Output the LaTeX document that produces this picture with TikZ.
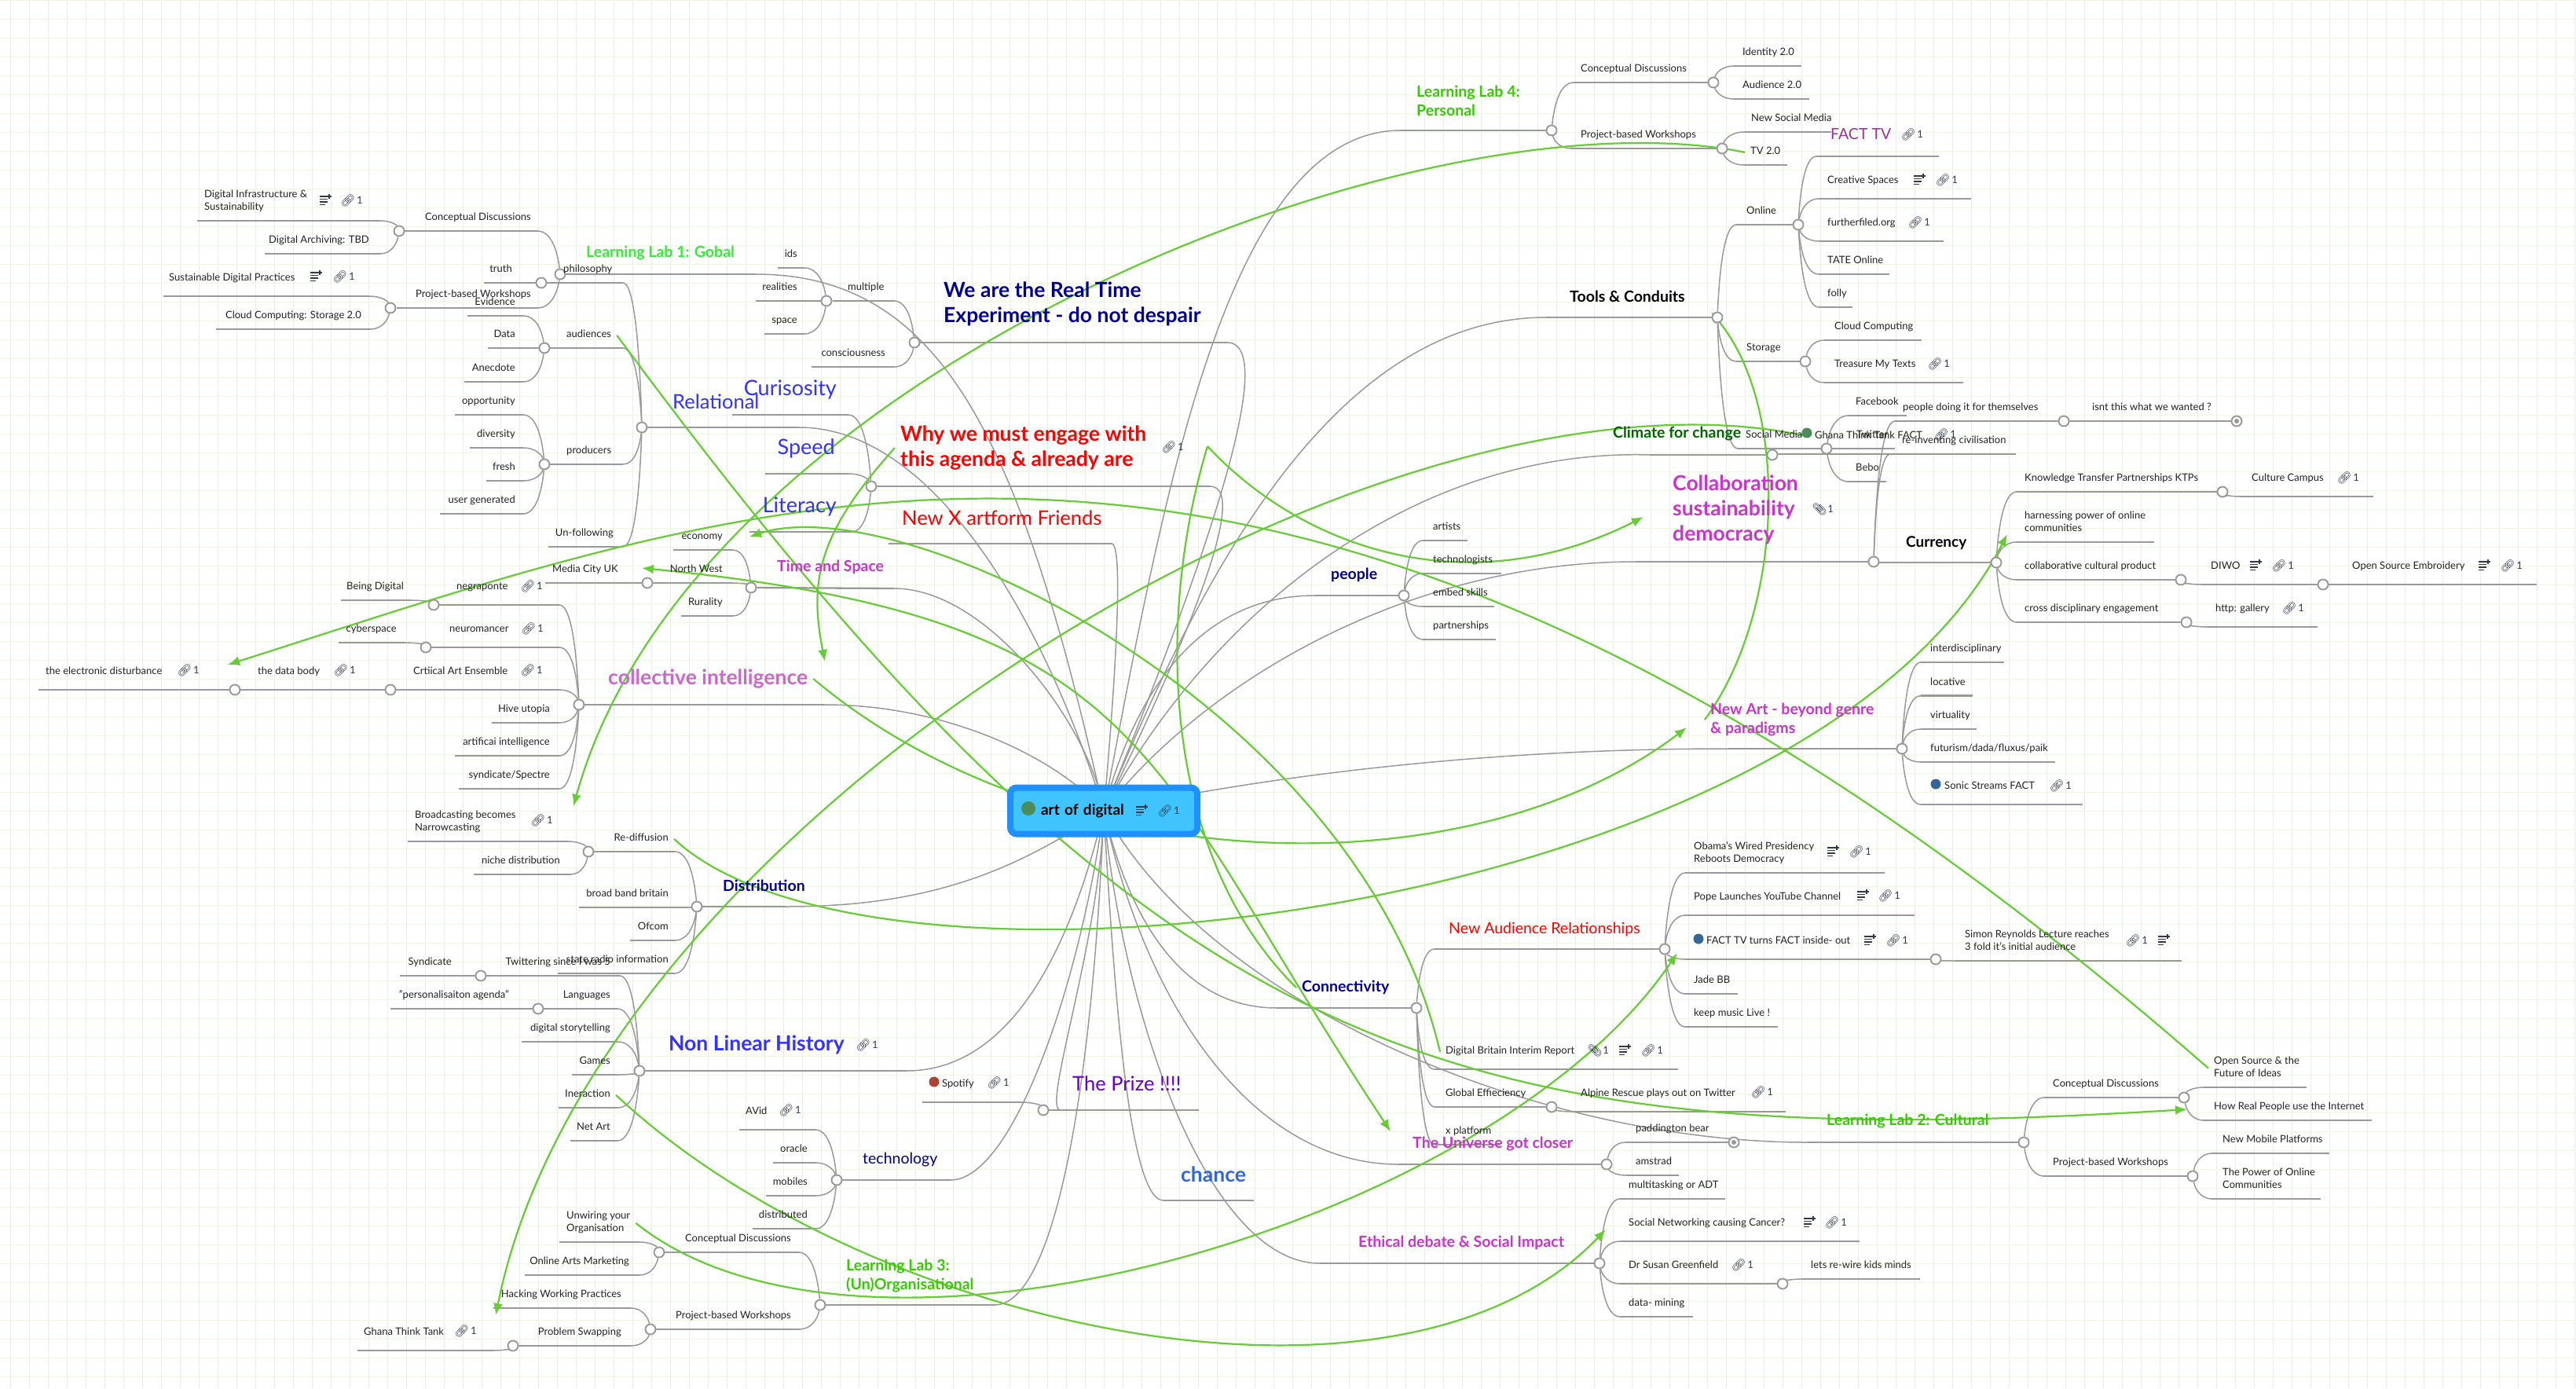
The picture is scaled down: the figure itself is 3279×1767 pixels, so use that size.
\documentclass[tikz,border=0pt]{standalone}
\usepackage{fontspec}
\setmainfont{Lato}
\newfontfamily\emojifont{Noto Emoji}
\usetikzlibrary{arrows.meta,backgrounds,calc}

\definecolor{linegray}{HTML}{999999}
\definecolor{relgreen}{HTML}{66CC33}
\definecolor{labgreen}{HTML}{33CC00}
\definecolor{limegreen}{HTML}{33EE33}
\definecolor{darkgreen}{HTML}{006600}
\definecolor{navyblue}{HTML}{000099}
\definecolor{brightblue}{HTML}{3333FF}
\definecolor{softblue}{HTML}{3366DD}
\definecolor{brightred}{HTML}{FF0000}
\definecolor{magentapink}{HTML}{CC33CC}
\definecolor{orchidpink}{HTML}{CC66CC}
\definecolor{prizepurple}{HTML}{6600CC}
\definecolor{factpurple}{HTML}{993399}
\definecolor{inkgray}{HTML}{222222}
\definecolor{iconink}{HTML}{33384A}
\definecolor{gridv}{HTML}{E7EFDE}
\definecolor{gridh}{HTML}{EEF7E4}
\definecolor{rootborder}{HTML}{1E90FF}
\definecolor{rootfill}{HTML}{40C4FF}
\definecolor{dotgreen}{HTML}{4C8C5A}
\definecolor{dotred}{HTML}{AA4433}
\definecolor{dotblue}{HTML}{336699}

\tikzset{
  leaf/.style={font=\fontsize{13}{16}\selectfont,text=inkgray,align=left,inner xsep=7pt,inner ysep=0pt,text depth=3.5pt,yshift=9.5pt},
  leafhi/.style={leaf,yshift=6pt},
  leafbig/.style={leaf,font=\fontsize{27}{32}\selectfont,text=brightblue,text depth=6pt,yshift=8.5pt},
  leafmid/.style={leaf,font=\fontsize{19.5}{24}\selectfont,text depth=5pt,yshift=4.5pt},
  leafbold/.style={leaf,font=\bfseries\fontsize{19}{24}\selectfont,text=black,text depth=5pt,yshift=4.5pt},
  title/.style={anchor=west,align=left,inner xsep=7pt,inner ysep=0pt,xshift=-7pt},
  titlebig/.style={title,font=\bfseries\fontsize{26.5}{32}\selectfont},
  titlemid/.style={title,font=\bfseries\fontsize{19.5}{24}\selectfont},
  titleplain/.style={title,font=\fontsize{25.5}{32}\selectfont},
  titleslim/.style={title,font=\fontsize{19.5}{24}\selectfont},
  hubdot/.style={circle,draw=linegray,fill=white,line width=1.9pt,minimum size=13pt,inner sep=0pt},
  markdot/.style={circle,minimum size=13pt,inner sep=0pt},
  rootbox/.style={draw=rootborder,fill=rootfill,line width=8pt,rounded corners=8pt,minimum width=238pt,minimum height=59pt,text width=222pt,align=left,inner sep=0pt,font=\bfseries\fontsize{19}{22}\selectfont},
  stem/.style={draw=linegray,line width=2.3pt},
  twigline/.style={draw=linegray,line width=1.5pt},
  twig/.style={twigline,to path={let \p1=(\tikztostart),\p2=(\tikztotarget) in .. controls (\x1*0.88+\x2*0.12,\y1*0.45+\y2*0.55) and (\x1*0.6+\x2*0.4,\y2) .. (\tikztotarget)}},
  relation/.style={draw=relgreen,line width=2.2pt},
  reltip/.style={relation,-{Latex[length=15pt,width=12pt]}},
  iconline/.style={draw=iconink,line width=1.2pt},
  iconnum/.style={font=\fontsize{13}{16}\selectfont,text=iconink,inner sep=0pt},
  notemark/.pic={
    \draw[iconline] (-7,-5) -- (2,-5) (-7,-1.5) -- (3,-1.5) (-7,2) -- (3,2) (-7,5.5) -- (0,5.5);
    \draw[iconline] (5,-8) -- (5,-2) (2,-5) -- (8,-5);
  }
}

\newcounter{iconno}
\newcommand{\linkat}[2]{\stepcounter{iconno}\node[iconnum] (link\arabic{iconno}) at (#1,#2) {\fontsize{15}{16}\emojifont\symbol{"1F517}};\node[iconnum] (num\arabic{iconno}) at (#1+15,#2) {1};}
\newcommand{\clipat}[2]{\stepcounter{iconno}\node[iconnum] (clip\arabic{iconno}) at (#1,#2) {\fontsize{15}{16}\emojifont\symbol{"1F4CE}};\node[iconnum] (num\arabic{iconno}) at (#1+14,#2) {1};}
\newcommand{\noteat}[2]{\pic at (#1,#2) {notemark};}

% leaf whose text starts at the given x
\newcommand{\leafR}[8][leaf]{
  \coordinate (#2-a) at (#4,#6);
  \coordinate (#2-b) at (#5,#6);
  \node[#1,anchor=south west,xshift=-7pt] (#2) at (#7,#6) {#8};
  \begin{pgfonlayer}{background}
    \path (#3) edge[twig] (#2-a);
    \draw[stem] (#2-a) -- (#2-b);
  \end{pgfonlayer}
}
% leaf whose text ends at the given x
\newcommand{\leafL}[8][leaf]{
  \coordinate (#2-a) at (#4,#6);
  \coordinate (#2-b) at (#5,#6);
  \node[#1,anchor=south east,xshift=7pt] (#2) at (#7,#6) {#8};
  \begin{pgfonlayer}{background}
    \path (#3) edge[twig] (#2-a);
    \draw[stem] (#2-a) -- (#2-b);
  \end{pgfonlayer}
}
% limb from the root to a first level hub
\newcommand{\limb}[4]{
  \coordinate (t-#1) at #4;
  \begin{pgfonlayer}{background}
    \draw[twigline] (root.center) .. controls #2 and #3 .. (t-#1);
    \draw[stem] (t-#1) -- (h-#1);
  \end{pgfonlayer}
}

\begin{document}
\begin{tikzpicture}[x=1pt,y=-1pt]
  \useasboundingbox (0,0) rectangle (3279,1767);
  \begin{pgfonlayer}{background}
    \fill[white] (0,0) rectangle (3279,1767);
    \foreach \gx in {13,37,...,3279} \draw[gridv,line width=1pt] (\gx,0) -- (\gx,1767);
    \foreach \gy in {0,24,...,1767} \draw[gridh,line width=1pt] (0,\gy) -- (3279,\gy);
  \end{pgfonlayer}

  \node[rootbox] (root) at (1405,1032) {\hspace*{31pt}art of digital};
  \node[markdot,minimum size=18pt,fill=dotgreen] (rootdot) at (1309,1029) {};
  \noteat{1453}{1032}
  \linkat{1483}{1032}

  % learning lab 1
  \node[hubdot] (h-lab1) at (713,349) {};
  \node[titlemid,text=limegreen] (lab1) at (746,322) {Learning Lab 1: Gobal};
  \limb{lab1}{(1300,560)}{(1200,349)}{(961,349)}
  \leafL{lab1cd}{h-lab1}{684}{515}{294}{676}{Conceptual Discussions}
  \node[hubdot] (h-lab1cd) at (508,294) {};
  \leafR{infra}{h-lab1cd}{484}{251}{281}{260}{Digital Infrastructure \&\\Sustainability}
  \noteat{414}{255} \linkat{443}{255}
  \leafL{archiving}{h-lab1cd}{484}{337}{323}{470}{Digital Archiving: TBD}
  \leafL{lab1pw}{h-lab1}{684}{505}{392}{676}{Project-based Workshops}
  \node[hubdot] (h-lab1pw) at (497,392) {};
  \leafR[leafhi]{sustainable}{h-lab1pw}{470}{208}{377}{215}{Sustainable Digital Practices}
  \noteat{402}{352} \linkat{433}{352}
  \leafL{cloudstore}{h-lab1pw}{471}{275}{419}{460}{Cloud Computing: Storage 2.0}

  % relational
  \node[hubdot] (h-relational) at (817,544) {};
  \node[titleplain,text=brightblue] (relational) at (856,511) {Relational};
  \limb{relational}{(1340,820)}{(1200,544)}{(1017,544)}
  \leafR{philosophy}{h-relational}{793}{695}{360}{717}{philosophy}
  \node[hubdot] (h-philosophy) at (689,360) {};
  \leafL{truth}{h-philosophy}{680}{616}{360}{652}{truth}
  \leafR{audiences}{h-relational}{793}{700}{443}{721}{audiences}
  \node[hubdot] (h-audiences) at (693,443) {};
  \leafL{evidence}{h-audiences}{666}{595}{402}{656}{Evidence}
  \leafL{datum}{h-audiences}{685}{621}{443}{656}{Data}
  \leafL{anecdote}{h-audiences}{666}{591}{486}{656}{Anecdote}
  \leafR{producers}{h-relational}{793}{700}{591}{721}{producers}
  \node[hubdot] (h-producers) at (693,591) {};
  \leafL{opportunity}{h-producers}{666}{579}{528}{656}{opportunity}
  \leafL{diversity}{h-producers}{666}{598}{570}{656}{diversity}
  \leafL{fresh}{h-producers}{666}{619}{612}{656}{fresh}
  \leafL{usergen}{h-producers}{666}{560}{654}{656}{user generated}
  \leafL{unfollowing}{h-relational}{793}{698}{696}{781}{Un-following}

  % real time experiment
  \node[hubdot] (h-weare) at (1164,436) {};
  \node[titlebig,text=navyblue] (weare) at (1201,387) {We are the Real Time\\Experiment - do not despair};
  \limb{weare}{(1500,800)}{(1640,436)}{(1562,436)}
  \leafR{multiple}{h-weare}{1138}{1060}{383}{1079}{multiple}
  \node[hubdot] (h-multiple) at (1052,383) {};
  \leafL{ids}{h-multiple}{1024}{990}{341}{1015}{ids}
  \leafL{realities}{h-multiple}{1043}{962}{383}{1015}{realities}
  \leafL{spaces}{h-multiple}{1024}{973}{425}{1015}{space}
  \leafL{consciousness}{h-weare}{1138}{1033}{467}{1127}{consciousness}

  % why we must engage
  \node[hubdot] (h-why) at (1109,619) {};
  \node[titlebig,text=brightred] (why) at (1146,570) {Why we must engage with\\this agenda \& already are};
  \linkat{1488}{569}
  \limb{why}{(1480,880)}{(1600,619)}{(1540,619)}
  \leafL[leafbig]{curisosity}{h-why}{1080}{932}{528}{1065}{Curisosity}
  \leafL[leafbig]{speed}{h-why}{1080}{974}{603}{1063}{Speed}
  \leafL[leafbig]{literacy}{h-why}{1084}{954}{677}{1065}{Literacy}

  % new x artform
  \coordinate (h-newx) at (1131,692);
  \node[titleplain,text=brightred] (newx) at (1148,659) {New X artform Friends};
  \limb{newx}{(1417,900)}{(1432,692)}{(1415,692)}

  % time and space
  \node[hubdot] (h-time) at (956,748) {};
  \node[titlemid,text=magentapink] (timespace) at (989,722) {Time and Space};
  \limb{time}{(1390,930)}{(1260,749)}{(1138,749)}
  \leafL{economy}{h-time}{933}{857}{700}{920}{economy}
  \leafL{northwest}{h-time}{933}{830}{742}{920}{North West}
  \node[hubdot] (h-northwest) at (824,742) {};
  \leafL{mediacity}{h-northwest}{815}{694}{742}{787}{Media City UK}
  \leafL{rurality}{h-time}{933}{867}{784}{920}{Rurality}

  % collective intelligence
  \node[hubdot] (h-collective) at (737,897) {};
  \node[titlebig,text=orchidpink] (collective) at (774,864) {collective intelligence};
  \limb{collective}{(1340,960)}{(1200,897)}{(1050,897)}
  \leafR[leafhi]{negraponte}{h-collective}{712}{558}{770}{581}{negraponte}
  \linkat{672}{746}
  \node[hubdot] (h-negraponte) at (552,770) {};
  \leafL{beingdigital}{h-negraponte}{523}{434}{764}{514}{Being Digital}
  \leafR[leafhi]{neuromancer}{h-collective}{712}{548}{824}{572}{neuromancer}
  \linkat{673}{800}
  \node[hubdot] (h-neuromancer) at (542,824) {};
  \leafL{cyberspace}{h-neuromancer}{516}{431}{818}{505}{cyberspace}
  \leafR[leafhi]{ensemble}{h-collective}{712}{503}{878}{526}{Crtiical Art Ensemble}
  \linkat{672}{853}
  \node[hubdot] (h-ensemble) at (497,878) {};
  \leafR[leafhi]{databody}{h-ensemble}{490}{305}{878}{328}{the data body}
  \linkat{434}{853}
  \node[hubdot] (h-databody) at (299,878) {};
  \leafR[leafhi]{electronic}{h-databody}{292}{49}{878}{58}{the electronic disturbance}
  \linkat{235}{853}
  \leafL{hive}{h-collective}{712}{626}{920}{700}{Hive utopia}
  \leafL{artificai}{h-collective}{712}{579}{962}{700}{artificai intelligence}
  \leafL{syndicatespectre}{h-collective}{712}{584}{1004}{700}{syndicate/Spectre}

  % distribution
  \node[hubdot] (h-distribution) at (887,1154) {};
  \node[titlemid,text=navyblue] (distribution) at (920,1127) {Distribution};
  \limb{distribution}{(1290,1110)}{(1180,1154)}{(1000,1154)}
  \leafL{rediffusion}{h-distribution}{859}{755}{1084}{851}{Re-diffusion}
  \node[hubdot] (h-rediffusion) at (749,1084) {};
  \leafR{broadcasting}{h-rediffusion}{723}{519}{1071}{528}{Broadcasting becomes\\Narrowcasting}
  \linkat{685}{1044}
  \leafL{niche}{h-rediffusion}{726}{603}{1113}{713}{niche distribution}
  \leafL{broadband}{h-distribution}{876}{737}{1155}{851}{broad band britain}
  \leafL{ofcom}{h-distribution}{859}{802}{1197}{851}{Ofcom}
  \leafL{stateradio}{h-distribution}{859}{710}{1239}{851}{state radio information}

  % non linear history
  \node[hubdot] (h-nonlinear) at (814,1363) {};
  \node[titlebig,text=brightblue] (nonlinear) at (851,1330) {Non Linear History};
  \linkat{1099}{1330}
  \limb{nonlinear}{(1365,1200)}{(1290,1363)}{(1154,1363)}
  \leafL{twittering}{h-nonlinear}{789}{618}{1242}{777}{Twittering since I was 5}
  \node[hubdot] (h-twittering) at (612,1242) {};
  \leafL{syndicate}{h-twittering}{603}{509}{1242}{575}{Syndicate}
  \leafL{languages}{h-nonlinear}{786}{691}{1284}{777}{Languages}
  \node[hubdot] (h-languages) at (685,1284) {};
  \leafL{personal}{h-languages}{676}{497}{1284}{648}{"personalisaiton agenda"}
  \leafL{storytelling}{h-nonlinear}{786}{664}{1326}{777}{digital storytelling}
  \leafL{games}{h-nonlinear}{786}{728}{1368}{777}{Games}
  \leafL{ineraction}{h-nonlinear}{786}{711}{1410}{777}{Ineraction}
  \leafL{netart}{h-nonlinear}{786}{726}{1452}{777}{Net Art}

  % the prize
  \node[hubdot] (h-prize) at (1328,1413) {};
  \node[titleplain,text=prizepurple] (prize) at (1365,1379) {The Prize !!!!};
  \limb{prize}{(1400,1200)}{(1325,1413)}{(1350,1413)}
  \coordinate (prize-end) at (1526,1413);
  \begin{pgfonlayer}{background}
    \draw[stem] (t-prize) -- (prize-end);
  \end{pgfonlayer}
  \leafR[leafhi]{spotify}{h-prize}{1301}{1174}{1403}{1199}{Spotify}
  \node[markdot,fill=dotred] (spotifydot) at (1189,1377) {};
  \linkat{1266}{1378}

  % technology
  \node[hubdot] (h-technology) at (1065,1502) {};
  \node[titleslim,text=navyblue] (technology) at (1098,1476) {technology};
  \limb{technology}{(1375,1250)}{(1290,1502)}{(1210,1502)}
  \leafR[leafhi]{avid}{h-technology}{1038}{941}{1438}{949}{AVid}
  \linkat{1001}{1413}
  \leafL{oracle}{h-technology}{1038}{984}{1480}{1028}{oracle}
  \leafL{mobiles}{h-technology}{1038}{975}{1522}{1028}{mobiles}
  \leafL{distributed}{h-technology}{1038}{958}{1564}{1028}{distributed}

  % learning lab 3
  \node[hubdot] (h-lab3) at (1044,1661) {};
  \node[titlemid,text=labgreen] (lab3) at (1077,1624) {Learning Lab 3:\\(Un)Organisational};
  \limb{lab3}{(1390,1400)}{(1340,1661)}{(1266,1661)}
  \leafL{lab3cd}{h-lab3}{1017}{845}{1594}{1007}{Conceptual Discussions}
  \node[hubdot] (h-lab3cd) at (839,1594) {};
  \leafR{unwiring}{h-lab3cd}{814}{712}{1581}{721}{Unwiring your\\Organisation}
  \leafL{onlinearts}{h-lab3cd}{814}{668}{1623}{801}{Online Arts Marketing}
  \leafL{lab3pw}{h-lab3}{1017}{834}{1692}{1007}{Project-based Workshops}
  \node[hubdot] (h-lab3pw) at (828,1692) {};
  \leafL{hacking}{h-lab3pw}{803}{628}{1665}{791}{Hacking Working Practices}
  \leafL{swapping}{h-lab3pw}{803}{659}{1713}{791}{Problem Swapping}
  \node[hubdot] (h-swapping) at (653,1713) {};
  \leafR[leafhi]{ghana}{h-swapping}{628}{455}{1719}{463}{Ghana Think Tank}
  \linkat{588}{1694}

  % chance
  \coordinate (h-chance) at (1596,1528);
  \node[titlebig,text=softblue] (chance) at (1503,1495) {chance};
  \limb{chance}{(1420,1300)}{(1440,1528)}{(1481,1528)}

  % learning lab 4
  \node[hubdot] (h-lab4) at (1975,166) {};
  \node[titlemid,text=labgreen] (lab4) at (1803,128) {Learning Lab 4:\\Personal};
  \limb{lab4}{(1480,640)}{(1560,166)}{(1783,166)}
  \leafR{lab4cd}{h-lab4}{2003}{2175}{105}{2012}{Conceptual Discussions}
  \node[hubdot] (h-lab4cd) at (2181,105) {};
  \leafR{identity}{h-lab4cd}{2207}{2293}{84}{2218}{Identity 2.0}
  \leafR{audiencetwo}{h-lab4cd}{2207}{2303}{126}{2218}{Audience 2.0}
  \leafR{lab4pw}{h-lab4}{2000}{2186}{189}{2012}{Project-based Workshops}
  \node[hubdot] (h-lab4pw) at (2192,189) {};
  \leafR{newsocial}{h-lab4pw}{2220}{2331}{168}{2229}{New Social Media}
  \leafR{tvtwo}{h-lab4pw}{2220}{2275}{210}{2228}{TV 2.0}

  % tools and conduits
  \node[hubdot] (h-tools) at (2186,404) {};
  \node[titlemid,text=black] (tools) at (1998,377) {Tools \& Conduits};
  \limb{tools}{(1510,780)}{(1680,404)}{(1968,404)}
  \leafR{online}{h-tools}{2210}{2283}{286}{2223}{Online}
  \node[hubdot] (h-online) at (2289,286) {};
  \leafR[leafmid,text=factpurple,yshift=2pt]{facttv}{h-online}{2312}{2468}{199}{2330}{FACT TV}
  \linkat{2429}{171}
  \leafR[leafhi]{creative}{h-online}{2315}{2509}{253}{2326}{Creative Spaces}
  \noteat{2443}{229} \linkat{2473}{229}
  \leafR[leafhi]{further}{h-online}{2315}{2474}{307}{2326}{furtherfiled.org}
  \linkat{2438}{283}
  \leafR{tate}{h-online}{2315}{2405}{349}{2326}{TATE Online}
  \leafR{folly}{h-online}{2315}{2358}{391}{2326}{folly}
  \leafR{storage}{h-tools}{2210}{2292}{460}{2223}{Storage}
  \node[hubdot] (h-storage) at (2298,460) {};
  \leafR{cloudcomp}{h-storage}{2322}{2446}{433}{2335}{Cloud Computing}
  \leafR[leafhi]{treasure}{h-storage}{2322}{2499}{487}{2335}{Treasure My Texts}
  \linkat{2463}{463}
  \leafR{socialmedia}{h-tools}{2212}{2319}{571}{2222}{Social Media}
  \node[hubdot] (h-socialmedia) at (2325,571) {};
  \leafR{facebook}{h-socialmedia}{2353}{2427}{529}{2362}{Facebook}
  \leafR{twitter}{h-socialmedia}{2340}{2412}{571}{2363}{Twitter}
  \leafR{bebo}{h-socialmedia}{2353}{2401}{613}{2362}{Bebo}

  % climate for change
  \node[hubdot] (h-climate) at (2256,579) {};
  \node[titlemid,text=darkgreen] (climate) at (2053,552) {Climate for change};
  \limb{climate}{(1540,780)}{(1800,570)}{(2100,579)}
  \leafR[leafhi]{ghanafact}{h-climate}{2264}{2470}{578}{2310}{Ghana Think Tank FACT}
  \node[markdot,fill=dotgreen] (ghanadot) at (2300,551) {};
  \linkat{2471}{553}

  % collaboration
  \node[hubdot] (h-collab) at (2385,715) {};
  \node[titlebig,text=magentapink] (collab) at (2129,649) {Collaboration\\sustainability\\democracy};
  \clipat{2316}{648}
  \limb{collab}{(1540,860)}{(1800,715)}{(2082,715)}
  \leafR{doingit}{h-collab}{2412}{2621}{536}{2422}{people doing it for themselves}
  \node[hubdot] (h-doingit) at (2627,536) {};
  \leafR{wanted}{h-doingit}{2640}{2841}{536}{2663}{isnt this what we wanted ?}
  \node[hubdot,path picture={\fill[linegray] (path picture bounding box.center) circle (3);}] (h-wanted) at (2847,536) {};
  \leafR{reinvent}{h-collab}{2406}{2566}{578}{2421}{re-inventing civilisation}
  \leafR[leafbold]{currency}{h-collab}{2392}{2535}{716}{2426}{Currency}
  \node[hubdot] (h-currency) at (2541,716) {};
  \leafR{ktp}{h-currency}{2567}{2823}{626}{2577}{Knowledge Transfer Partnerships KTPs}
  \node[hubdot] (h-ktp) at (2829,626) {};
  \leafR[leafhi]{campus}{h-ktp}{2852}{3021}{632}{2866}{Culture Campus}
  \linkat{2984}{608}
  \leafR{harness}{h-currency}{2567}{2742}{690}{2577}{harnessing power of online\\communities}
  \leafR{collabprod}{h-currency}{2567}{2770}{738}{2577}{collaborative cultural product}
  \node[hubdot] (h-collabprod) at (2776,738) {};
  \leafR[leafhi]{diwo}{h-collabprod}{2803}{2951}{744}{2814}{DIWO}
  \noteat{2871}{720} \linkat{2901}{720}
  \node[hubdot] (h-diwo) at (2957,744) {};
  \leafR[leafhi]{embroidery}{h-diwo}{2965}{3229}{744}{2994}{Open Source Embroidery}
  \noteat{3162}{720} \linkat{3192}{720}
  \leafR{crossdisc}{h-currency}{2567}{2777}{792}{2577}{cross disciplinary engagement}
  \node[hubdot] (h-crossdisc) at (2783,792) {};
  \leafR[leafhi]{gallery}{h-crossdisc}{2809}{2950}{798}{2820}{http: gallery}
  \linkat{2914}{774}

  % new art
  \node[hubdot] (h-newart) at (2421,953) {};
  \node[titlemid,text=magentapink] (newart) at (2177,916) {New Art - beyond genre\\\& paradigms};
  \limb{newart}{(1627,985)}{(1900,953)}{(2200,953)}
  \leafR{interdisc}{h-newart}{2445}{2551}{843}{2457}{interdisciplinary}
  \leafR{locative}{h-newart}{2445}{2511}{885.5}{2457}{locative}
  \leafR{virtuality}{h-newart}{2445}{2516}{928}{2457}{virtuality}
  \leafR{futurism}{h-newart}{2445}{2616}{970}{2457}{futurism/dada/fluxus/paik}
  \leafR[leafhi]{sonic}{h-newart}{2445}{2651}{1024}{2475}{Sonic Streams FACT}
  \node[markdot,fill=dotblue] (sonicdot) at (2464,998) {};
  \linkat{2618}{1000}

  % connectivity
  \node[hubdot] (h-connectivity) at (1803,1283) {};
  \node[titlemid,text=navyblue] (connectivity) at (1657,1257) {Connectivity};
  \limb{connectivity}{(1440,1180)}{(1510,1283)}{(1625,1283)}
  \leafR[leafmid,text=brightred]{audiencerel}{h-connectivity}{1826}{2113}{1208}{1844}{New Audience Relationships}
  \node[hubdot] (h-audiencerel) at (2119,1208) {};
  \leafR{obama}{h-audiencerel}{2145}{2399}{1111}{2156}{Obama's Wired Presidency\\Reboots Democracy}
  \noteat{2333}{1084} \linkat{2363}{1084}
  \leafR[leafhi]{pope}{h-audiencerel}{2145}{2437}{1165}{2156}{Pope Launches YouTube Channel}
  \noteat{2371}{1140} \linkat{2400}{1140}
  \leafR[leafhi]{insideout}{h-audiencerel}{2145}{2458}{1221}{2172}{FACT TV turns FACT inside- out}
  \node[markdot,fill=dotblue] (insidedot) at (2162,1195) {};
  \noteat{2380}{1197} \linkat{2410}{1197}
  \node[hubdot] (h-insideout) at (2464,1221) {};
  \leafR{simon}{h-insideout}{2489}{2777}{1223}{2501}{Simon Reynolds Lecture reaches\\3 fold it's initial audience}
  \linkat{2715}{1197} \noteat{2754}{1197}
  \leafR{jade}{h-audiencerel}{2145}{2212}{1265}{2156}{Jade BB}
  \leafR{keepmusic}{h-audiencerel}{2145}{2263}{1307}{2156}{keep music Live !}
  \leafR[leafhi]{britain}{h-connectivity}{1826}{2136}{1361}{1840}{Digital Britain Interim Report}
  \clipat{2030}{1337} \noteat{2068}{1337} \linkat{2098}{1337}
  \leafR{globaleff}{h-connectivity}{1826}{1969}{1409}{1840}{Global Effieciency}
  \node[hubdot] (h-globaleff) at (1975,1409) {};
  \leafR[leafhi]{alpine}{h-globaleff}{2002}{2273}{1415}{2012}{Alpine Rescue plays out on Twitter}
  \linkat{2238}{1390}
  \leafR{xplatform}{h-connectivity}{1826}{1910}{1457}{1840}{x platform}

  % the universe got closer
  \node[hubdot] (h-universe) at (2045,1482) {};
  \node[titlemid,text=magentapink] (universe) at (1798,1456) {The Universe got closer};
  \limb{universe}{(1460,1290)}{(1600,1482)}{(1780,1482)}
  \leafR{paddington}{h-universe}{2069}{2201}{1454}{2082}{paddington bear}
  \node[hubdot,path picture={\fill[linegray] (path picture bounding box.center) circle (3);}] (h-paddington) at (2207,1454) {};
  \leafR{amstrad}{h-universe}{2070}{2137}{1496}{2082}{amstrad}

  % learning lab 2
  \node[hubdot] (h-lab2) at (2576,1454) {};
  \node[titlemid,text=labgreen] (lab2) at (2325,1427) {Learning Lab 2: Cultural};
  \limb{lab2}{(1540,1280)}{(1960,1454)}{(2300,1454)}
  \leafR{lab2cd}{h-lab2}{2602}{2774}{1397}{2613}{Conceptual Discussions}
  \node[hubdot] (h-lab2cd) at (2780,1397) {};
  \leafR{opensource}{h-lab2cd}{2805}{2936}{1384}{2818}{Open Source \& the\\Future of Ideas}
  \leafR{realpeople}{h-lab2cd}{2805}{3019}{1426}{2818}{How Real People use the Internet}
  \leafR{lab2pw}{h-lab2}{2602}{2785}{1497}{2613}{Project-based Workshops}
  \node[hubdot] (h-lab2pw) at (2791,1497) {};
  \leafR{mobileplat}{h-lab2pw}{2816}{2965}{1468}{2829}{New Mobile Platforms}
  \leafR{poweronline}{h-lab2pw}{2816}{2954}{1526}{2829}{The Power of Online\\Communities}

  % ethical debate
  \node[hubdot] (h-ethical) at (2036,1608) {};
  \node[titlemid,text=magentapink] (ethical) at (1729,1582) {Ethical debate \& Social Impact};
  \limb{ethical}{(1430,1300)}{(1540,1608)}{(1680,1608)}
  \leafR{multitasking}{h-ethical}{2062}{2196}{1526}{2073}{multitasking or ADT}
  \leafR[leafhi]{cancer}{h-ethical}{2062}{2367}{1580}{2073}{Social Networking causing Cancer?}
  \noteat{2303}{1556} \linkat{2332}{1556}
  \leafR[leafhi]{greenfield}{h-ethical}{2062}{2263}{1634}{2073}{Dr Susan Greenfield}
  \linkat{2213}{1610}
  \node[hubdot] (h-greenfield) at (2269,1634) {};
  \leafR{rewire}{h-greenfield}{2294}{2444}{1628}{2305}{lets re-wire kids minds}
  \leafR{mining}{h-ethical}{2062}{2155}{1676}{2073}{data- mining}

  % people
  \node[hubdot] (h-people) at (1787,758) {};
  \node[titlemid,text=navyblue] (people) at (1694,732) {people};
  \limb{people}{(1450,860)}{(1540,758)}{(1674,758)}
  \leafR{artists}{h-people}{1811}{1868}{688}{1824}{artists}
  \leafR{technologists}{h-people}{1811}{1911}{730}{1824}{technologists}
  \leafR{embedskills}{h-people}{1811}{1902}{772}{1824}{embed skills}
  \leafR{partnerships}{h-people}{1811}{1904}{814}{1824}{partnerships}

  % relationships
  \coordinate (to-broadcast) at (730,1026);
  \coordinate (to-collective) at (1050,842);
  \coordinate (to-how) at (2784,1412);
  \coordinate (to-electronic) at (290,846);
  \coordinate (to-ethical) at (2044,1565);
  \coordinate (to-audiencerel) at (2135,1213);
  \coordinate (to-currency) at (2555,680);
  \coordinate (to-economy) at (954,683);
  \coordinate (why-end) at (1537,568);
  \coordinate (to-collab) at (2092,658);
  \coordinate (to-ghana) at (631,1674);
  \coordinate (to-newart) at (2147,926);
  \coordinate (to-media) at (817,723);
  \coordinate (to-universe) at (1770,1440);
  \coordinate (to-tools) at (2178,397);
  \begin{pgfonlayer}{background}
    \draw[reltip] (tvtwo.west) .. controls (1800,110) and (880,480) .. (to-broadcast);
    \draw[reltip] (why.west) .. controls (1040,680) and (1030,740) .. (to-collective);
    \draw[reltip] (audiences.east) .. controls (1471,1357) and (1843,1470) .. (to-how);
    \draw[reltip] (opensource.west) .. controls (1655,349) and (995,622) .. (to-electronic);
    \draw[reltip] (ineraction.east) .. controls (1100,1690) and (1780,1840) .. (to-ethical);
    \draw[reltip] (unwiring.east) .. controls (1100,1790) and (1900,1560) .. (to-audiencerel);
    \draw[reltip] (rediffusion.east) .. controls (1115,1309) and (2305,1166) .. (to-currency);
    \draw[reltip] (britain.west) .. controls (1730,900) and (1150,620) .. (to-economy);
    \draw[relation] (why-end) .. controls (1470,790) and (1480,1090) .. (connectivity.west);
    \draw[reltip] (why-end) .. controls (1660,700) and (1870,770) .. (to-collab);
    \draw[reltip] (ghanafact.west) .. controls (1763,436) and (757,1045) .. (to-ghana);
    \draw[reltip] (collective.east) .. controls (1335,1117) and (1863,1141) .. (to-newart);
    \draw[reltip,{Latex[length=15pt,width=12pt]}-{Latex[length=15pt,width=12pt]}] (to-media) .. controls (1472,788) and (1454,964) .. (to-universe);
    \draw[reltip] (newart.west) .. controls (2270,780) and (2280,520) .. (to-tools);
  \end{pgfonlayer}
\end{tikzpicture}
\end{document}
